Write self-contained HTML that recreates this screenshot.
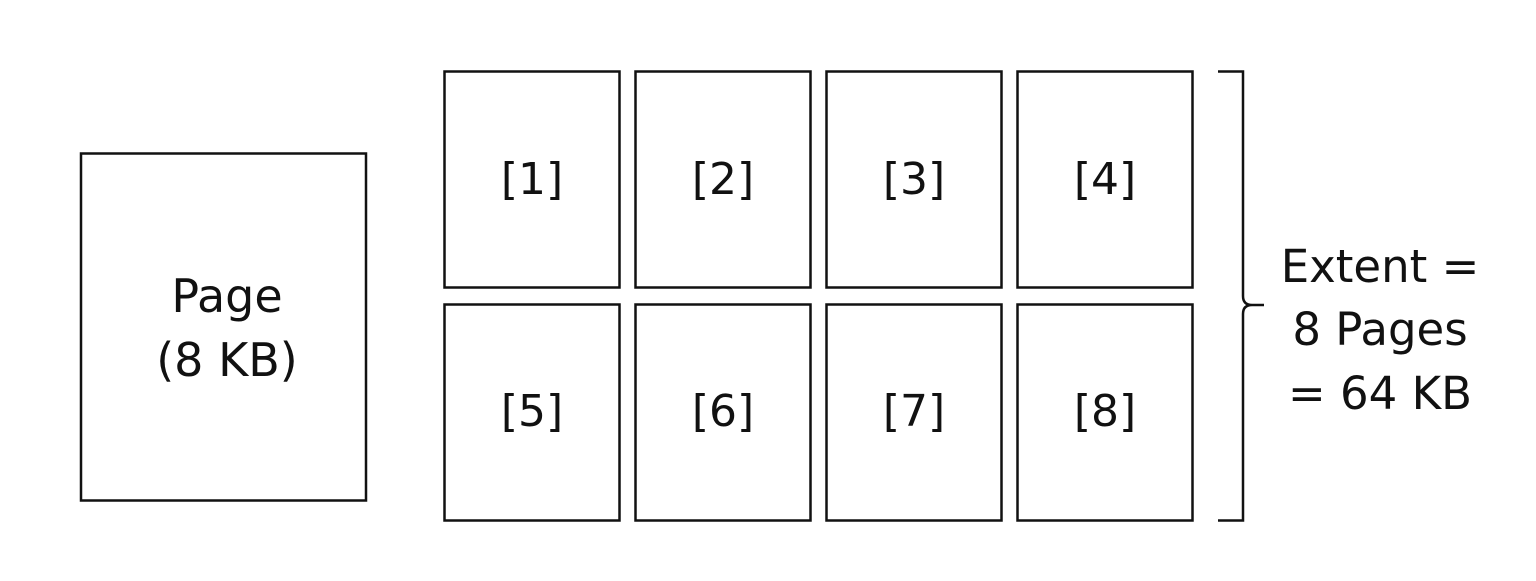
<!DOCTYPE html>
<html><head><style>
body{margin:0;background:#fff;}
svg text{font-family:"DejaVu Sans","Liberation Sans",sans-serif;fill:#111;}
</style></head><body>
<svg width="1536" height="576" viewBox="0 0 1536 576" xmlns="http://www.w3.org/2000/svg">
<rect width="1536" height="576" fill="#fff"/>
<g fill="none" stroke="#111" stroke-width="2.5">
<rect x="81" y="153.5" width="285" height="347"/>
<rect x="444.5" y="71.5" width="175" height="216"/>
<rect x="635.5" y="71.5" width="175" height="216"/>
<rect x="826.5" y="71.5" width="175" height="216"/>
<rect x="1017.5" y="71.5" width="175" height="216"/>
<rect x="444.5" y="304.5" width="175" height="216"/>
<rect x="635.5" y="304.5" width="175" height="216"/>
<rect x="826.5" y="304.5" width="175" height="216"/>
<rect x="1017.5" y="304.5" width="175" height="216"/>
<path d="M1218 71.5 H1243 V296 Q1243 305 1252 305 H1264 M1252 305 Q1243 305 1243 314 V520.5 H1218"/>
</g>
<g font-size="44" text-anchor="middle">
<text x="532" y="194">[1]</text>
<text x="723" y="194">[2]</text>
<text x="914" y="194">[3]</text>
<text x="1105" y="194">[4]</text>
<text x="532" y="426">[5]</text>
<text x="723" y="426">[6]</text>
<text x="914" y="426">[7]</text>
<text x="1105" y="426">[8]</text>
<text x="227" y="312" font-size="46">Page</text>
<text x="227" y="376" font-size="46">(8 KB)</text>
<text x="1380" y="282" font-size="45">Extent =</text>
<text x="1380" y="345" font-size="45">8 Pages</text>
<text x="1380" y="409" font-size="45">= 64 KB</text>
</g>
</svg>
</body></html>
